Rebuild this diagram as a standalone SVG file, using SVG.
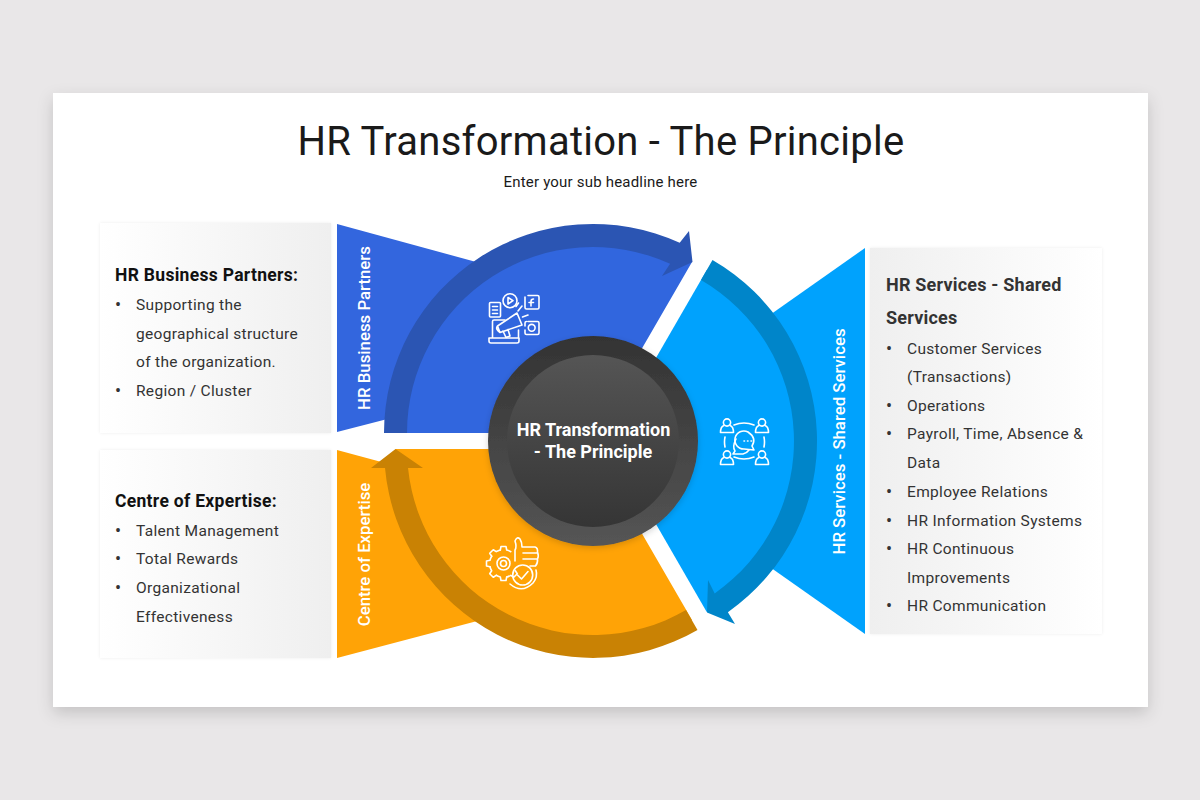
<svg xmlns="http://www.w3.org/2000/svg" xmlns:xlink="http://www.w3.org/1999/xlink" width="1200" height="800" viewBox="0 0 1200 800">
<style>
text{font-family:Roboto,"Liberation Sans",sans-serif}
.title{font-size:40px;letter-spacing:.25px;fill:#1a1a1a;text-anchor:middle}
.sub{font-size:15px;letter-spacing:.2px;fill:#1a1a1a;text-anchor:middle}
.h{font-size:17.5px;letter-spacing:.3px;font-weight:700;fill:#111}
.h2{font-size:18px;letter-spacing:.2px;font-weight:700;fill:#333}
.i{font-size:15.5px;letter-spacing:.32px;fill:#333}
.b{font-size:18px;fill:#333}
.v{font-size:16.8px;font-weight:500;fill:#fff;text-anchor:middle}
.c{font-size:18px;font-weight:700;fill:#fff;text-anchor:middle}
.ic{fill:none;stroke:#fff;stroke-width:1.6;stroke-linecap:round;stroke-linejoin:round}
</style>
<defs>
<linearGradient id="card" x1="0" x2="1" y1="0" y2="0"><stop offset="0" stop-color="#fff"/><stop offset="1" stop-color="#efefef"/></linearGradient>
<linearGradient id="ro" x1="0" x2="0" y1="0" y2="1"><stop offset="0" stop-color="#333"/><stop offset="1" stop-color="#555"/></linearGradient>
<linearGradient id="ri" x1="0" x2="0" y1="0" y2="1"><stop offset="0" stop-color="#555"/><stop offset="1" stop-color="#353535"/></linearGradient>
<filter id="ps" x="-5%" y="-5%" width="110%" height="112%"><feDropShadow dx="0" dy="6" stdDeviation="8" flood-color="#000" flood-opacity=".16"/></filter>
<filter id="cs" x="-5%" y="-5%" width="110%" height="110%"><feDropShadow dx="0" dy="0" stdDeviation="1.5" flood-color="#000" flood-opacity=".07"/></filter>
<filter id="rs" x="-20%" y="-20%" width="140%" height="140%"><feDropShadow dx="0" dy="2" stdDeviation="3" flood-color="#000" flood-opacity=".16"/></filter>
<path id="tooth" d="M-3.2 -13.5L-2.5 -17L2.5 -17L3.2 -13.5A13.87 13.87 0 0 1 7.28 -11.8"/>
<g id="person"><circle cx="0" cy="-3.5" r="3.6"/><path d="M-3 -.5C-6 .5-6.500 3-6.500 6.500H6.500C6.500 3 6 .5 3 -.5"/></g>
</defs>
<rect width="1200" height="800" fill="#e9e7e8"/>
<rect x="53" y="93" width="1095" height="614" fill="#fff" filter="url(#ps)"/>
<text class="title" x="601" y="155">HR Transformation - The Principle</text>
<text class="sub" x="600.500" y="187">Enter your sub headline here</text>

<g id="card-partners">
<rect x="100" y="223" width="231" height="210" fill="url(#card)" filter="url(#cs)"/>
<text class="h" x="115" y="281">HR Business Partners:</text>
<text class="b" x="115" y="311">•</text><text class="i" x="136" y="310">Supporting the</text>
<text class="i" x="136" y="339">geographical structure</text>
<text class="i" x="136" y="367">of the organization.</text>
<text class="b" x="115" y="397">•</text><text class="i" x="136" y="396">Region / Cluster</text>
</g>
<g id="card-expertise">
<rect x="100" y="450" width="231" height="208" fill="url(#card)" filter="url(#cs)"/>
<text class="h" x="115" y="507">Centre of Expertise:</text>
<text class="b" x="115" y="537">•</text><text class="i" x="136" y="536">Talent Management</text>
<text class="b" x="115" y="565">•</text><text class="i" x="136" y="564">Total Rewards</text>
<text class="b" x="115" y="594">•</text><text class="i" x="136" y="593">Organizational</text>
<text class="i" x="136" y="622">Effectiveness</text>
</g>
<g id="card-services">
<rect x="870" y="248" width="232" height="386" fill="url(#card)" filter="url(#cs)" transform="matrix(-1 0 0 1 1972 0)"/>
<text class="h2" x="886" y="291">HR Services - Shared</text>
<text class="h2" x="886" y="324">Services</text>
<text class="b" x="886" y="355">•</text><text class="i" x="907" y="354">Customer Services</text>
<text class="i" x="907" y="382">(Transactions)</text>
<text class="b" x="886" y="412">•</text><text class="i" x="907" y="411">Operations</text>
<text class="b" x="886" y="440">•</text><text class="i" x="907" y="439">Payroll, Time, Absence &amp;</text>
<text class="i" x="907" y="468">Data</text>
<text class="b" x="886" y="498">•</text><text class="i" x="907" y="497">Employee Relations</text>
<text class="b" x="886" y="527">•</text><text class="i" x="907" y="526">HR Information Systems</text>
<text class="b" x="886" y="555">•</text><text class="i" x="907" y="554">HR Continuous</text>
<text class="i" x="907" y="583">Improvements</text>
<text class="b" x="886" y="612">•</text><text class="i" x="907" y="611">HR Communication</text>
</g>

<g id="segment-partners">
<polygon points="337,224 500,268.500 500,390 337,432" fill="#3366de"/>
<path d="M593 433L395.500 433A197.500 197.500 0 0 1 692 262Z" fill="#3166de"/>
<path d="M384 433A209 209 0 0 1 679.700 242.800L689 231L692.500 262L662 276L670.100 263.700A186 186 0 0 0 407 433Z" fill="#2b55b3"/>
<text class="v" transform="translate(370 328) rotate(-90)">HR Business Partners</text>
<g class="ic">
<rect x="489.500" y="302.500" width="11" height="14.500" rx="1"/><path d="M492.500 306.500h5M492.500 310h5M492.500 313.500h5"/>
<circle cx="510" cy="300.700" r="7"/><path d="M508 297.500L513 300.700L508 304Z"/>
<path d="M528 295.500H537.500Q539 295.500 539 297V307.500Q539 309 537.500 309H526.500Q525 309 525 307.500V297"/><path d="M533.500 299Q531 299 531 301.500V306M529 302.500H533.500"/>
<path d="M528 321.500H537.500Q539 321.500 539 323V333Q539 334.500 537.500 334.500H526.500Q525 334.500 525 333V330M525 326V323Q525 321.500 526.500 321.500"/><circle cx="531.700" cy="327.800" r="3.400"/>
<path d="M492.500 338V321.500Q492.500 320 494 320H505M518.500 330V338M489 338H519V341Q519 343 517 343H491Q489 343 489 341Z"/>
<path d="M497.500 326L517 313L522 325L500 332.500ZM497.500 326Q495 329 500 332.500M503 331L506 337.500L510 336L508 329.500"/>
<path d="M518 311L522 306M522.500 317L528 315M516 306.500L518.500 303"/>
</g>
</g>

<g id="segment-expertise">
<polygon points="337,450 500,494 500,615 337,658" fill="#ffa306"/>
<path d="M593 449L395.500 449A197.500 197.500 0 0 0 692 620Z" fill="#ffa306"/>
<path d="M697.500 630A209 209 0 0 1 385 468L371 468L395.500 449L423 468L408 468A186 186 0 0 0 686 610.100Z" fill="#c98204"/>
<text class="v" transform="translate(370 554.500) rotate(-90)">Centre of Expertise</text>
<g class="ic">
<g transform="translate(503.500 563.500)">
<use href="#tooth" transform="rotate(135)"/><use href="#tooth" transform="rotate(180)"/><use href="#tooth" transform="rotate(225)"/><use href="#tooth" transform="rotate(270)"/><use href="#tooth" transform="rotate(315)"/><use href="#tooth"/>
<circle r="6.500"/><circle r="3"/>
</g>
<path d="M515 561V550Q517 547 515 541Q517 536 520 539Q522 542 522 547H535Q538 548 537.500 552Q539 556 537.500 559Q538 563 535.500 566H530M523 553H537M523 559H537"/>
<circle cx="522.700" cy="575" r="10"/><path d="M517.500 575L521.500 579L528 571.500"/>
<path d="M510 584Q522 594 533 583Q538 577 536 570"/>
</g>
</g>

<g id="segment-services">
<polygon points="865,248 865,634 740,546 740,336" fill="#00a2fd"/>
<path d="M608 441L706.750 270A197.500 197.500 0 0 1 706.750 612Z" fill="#00a2fd"/>
<path d="M712.500 260A209 209 0 0 1 727.900 612.200L735 624L707 612.500L708 580L714.700 593.400A186 186 0 0 0 701 280Z" fill="#0085c9"/>
<text class="v" transform="translate(845 441.500) rotate(-90)">HR Services - Shared Services</text>
<g class="ic" stroke-width="1.400">
<use href="#person" x="727" y="426"/><use href="#person" x="762" y="426"/><use href="#person" x="727" y="458"/><use href="#person" x="762" y="458"/>
<path d="M734 425Q744 421 754 425M734 457Q744 461 754 457M725 437Q724 442 725 447M764 437Q765 442 764 447"/>
<path d="M748 432A9 9 0 1 0 744 449L754 450L752 446Q757 438 748 432Z"/>
<path d="M736 439Q732 447 735 451L733 454L743 454Q747 453 749 450"/>
<path d="M744 441h.5M747.500 441h.5M751 441h.5"/>
</g>
</g>

<g id="center">
<circle cx="593" cy="441" r="105" fill="url(#ro)" filter="url(#rs)"/>
<circle cx="593" cy="441" r="86" fill="url(#ri)"/>
<text class="c" x="593.500" y="436">HR Transformation</text>
<text class="c" x="593" y="458">- The Principle</text>
</g>
</svg>
